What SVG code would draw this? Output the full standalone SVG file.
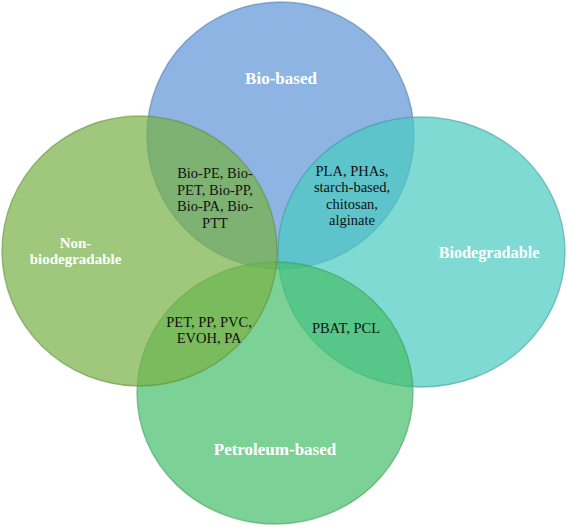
<svg xmlns="http://www.w3.org/2000/svg" width="567" height="529" viewBox="0 0 567 529">
<style>
.c{fill-opacity:0.7;stroke-width:1.4;stroke-opacity:0.55}
.t{font-family:"Liberation Serif","Times New Roman",serif;font-weight:bold;fill:#ffffff;text-anchor:middle}
.s{font-family:"Liberation Serif","Times New Roman",serif;font-size:14.5px;fill:#111111;text-anchor:middle}
</style>
<rect width="567" height="529" fill="#ffffff"/>
<g id="bio-based">
<ellipse class="c" cx="280.5" cy="135.5" rx="133.5" ry="133.5" fill="#5c94d6" stroke="#4a78a8"/>
<text class="t" x="281" y="84" font-size="17">Bio-based</text>
</g>
<g id="biodegradable">
<ellipse class="c" cx="421.5" cy="252" rx="143.5" ry="135" fill="#4acac2" stroke="#3a9a94"/>
<text class="t" x="489" y="258" font-size="16.2">Biodegradable</text>
</g>
<g id="petroleum-based">
<ellipse class="c" cx="275" cy="393" rx="138" ry="131" fill="#45bf69" stroke="#3a9a56"/>
<text class="t" x="275" y="455" font-size="17">Petroleum-based</text>
</g>
<g id="non-biodegradable">
<ellipse class="c" cx="139.5" cy="251" rx="137.5" ry="135" fill="#77b045" stroke="#5f8a3a"/>
<text class="t" font-size="15"><tspan x="75.5" y="248">Non-</tspan><tspan x="75.5" y="264">biodegradable</tspan></text>
</g>
<g id="bio-nonbio">
<text class="s"><tspan x="215" y="178">Bio-PE, Bio-</tspan><tspan x="215" y="194.5">PET, Bio-PP,</tspan><tspan x="215" y="211">Bio-PA, Bio-</tspan><tspan x="215" y="227.5">PTT</tspan></text>
</g>
<g id="bio-biodeg">
<text class="s"><tspan x="352" y="176">PLA, PHAs,</tspan><tspan x="352" y="192.3">starch-based,</tspan><tspan x="352" y="208.6">chitosan,</tspan><tspan x="352" y="224.9">alginate</tspan></text>
</g>
<g id="petro-nonbio">
<text class="s"><tspan x="209" y="326.5">PET, PP, PVC,</tspan><tspan x="209" y="343">EVOH, PA</tspan></text>
</g>
<g id="petro-biodeg">
<text class="s"><tspan x="346" y="332.5">PBAT, PCL</tspan></text>
</g>
</svg>
